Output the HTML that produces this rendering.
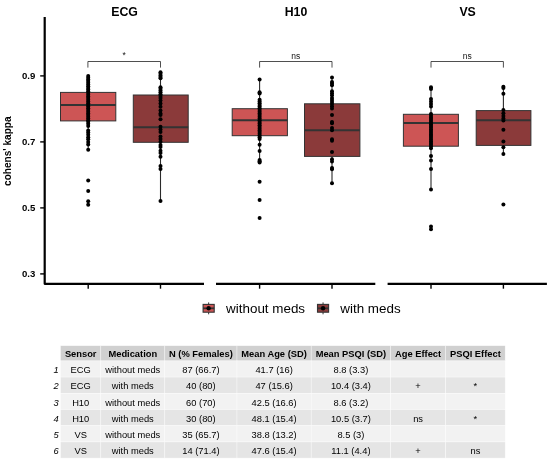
<!DOCTYPE html>
<html><head><meta charset="utf-8"><title>Figure</title><style>html,body{margin:0;padding:0;background:#fff}</style></head><body>
<svg width="550" height="464" viewBox="0 0 550 464" style="display:block;font-family:'Liberation Sans',Arial,sans-serif">
<rect width="550" height="464" fill="#fff"/>
<text x="124.6" y="15.8" font-size="12.3" font-weight="bold" text-anchor="middle" fill="#000">ECG</text>
<text x="296" y="15.8" font-size="12.3" font-weight="bold" text-anchor="middle" fill="#000">H10</text>
<text x="467.6" y="15.8" font-size="12.3" font-weight="bold" text-anchor="middle" fill="#000">VS</text>
<text transform="translate(11.3,151.2) rotate(-90)" font-size="10.05" font-weight="bold" text-anchor="middle" fill="#000">cohens' kappa</text>
<text x="35.3" y="79.4" font-size="9.6" font-weight="bold" text-anchor="end" fill="#000">0.9</text>
<line x1="40.2" x2="44.7" y1="75.9" y2="75.9" stroke="#000" stroke-width="1.4"/>
<text x="35.3" y="145.4" font-size="9.6" font-weight="bold" text-anchor="end" fill="#000">0.7</text>
<line x1="40.2" x2="44.7" y1="141.9" y2="141.9" stroke="#000" stroke-width="1.4"/>
<text x="35.3" y="211.4" font-size="9.6" font-weight="bold" text-anchor="end" fill="#000">0.5</text>
<line x1="40.2" x2="44.7" y1="207.9" y2="207.9" stroke="#000" stroke-width="1.4"/>
<text x="35.3" y="277.4" font-size="9.6" font-weight="bold" text-anchor="end" fill="#000">0.3</text>
<line x1="40.2" x2="44.7" y1="273.9" y2="273.9" stroke="#000" stroke-width="1.4"/>
<path d="M44.7 17V283.8H204" fill="none" stroke="#000" stroke-width="2.2" stroke-linejoin="round"/>
<line x1="216" x2="375.3" y1="283.8" y2="283.8" stroke="#000" stroke-width="2.2"/>
<line x1="387.6" x2="546.9" y1="283.8" y2="283.8" stroke="#000" stroke-width="2.2"/>
<line x1="88.2" x2="88.2" y1="284" y2="288.7" stroke="#000" stroke-width="1.4"/>
<line x1="160.5" x2="160.5" y1="284" y2="288.7" stroke="#000" stroke-width="1.4"/>
<line x1="259.6" x2="259.6" y1="284" y2="288.7" stroke="#000" stroke-width="1.4"/>
<line x1="332.0" x2="332.0" y1="284" y2="288.7" stroke="#000" stroke-width="1.4"/>
<line x1="431" x2="431" y1="284" y2="288.7" stroke="#000" stroke-width="1.4"/>
<line x1="503.4" x2="503.4" y1="284" y2="288.7" stroke="#000" stroke-width="1.4"/>
<line x1="88.2" x2="88.2" y1="76" y2="149.8" stroke="#2a2a2a" stroke-width="1.1"/>
<rect x="60.5" y="92.4" width="55.3" height="28.5" fill="#CD5555" stroke="#333333" stroke-width="1"/>
<line x1="60.5" x2="115.8" y1="105.0" y2="105.0" stroke="#333333" stroke-width="1.9"/>
<line x1="160.5" x2="160.5" y1="72" y2="201" stroke="#2a2a2a" stroke-width="1.1"/>
<rect x="133.3" y="95.0" width="54.9" height="47.3" fill="#8B3A3A" stroke="#333333" stroke-width="1"/>
<line x1="133.3" x2="188.2" y1="127.2" y2="127.2" stroke="#333333" stroke-width="1.9"/>
<line x1="259.6" x2="259.6" y1="79.4" y2="162.6" stroke="#2a2a2a" stroke-width="1.1"/>
<rect x="232.2" y="108.7" width="55.2" height="27.0" fill="#CD5555" stroke="#333333" stroke-width="1"/>
<line x1="232.2" x2="287.4" y1="120.3" y2="120.3" stroke="#333333" stroke-width="1.9"/>
<line x1="332.0" x2="332.0" y1="77.4" y2="183.3" stroke="#2a2a2a" stroke-width="1.1"/>
<rect x="304.5" y="103.8" width="55.4" height="52.6" fill="#8B3A3A" stroke="#333333" stroke-width="1"/>
<line x1="304.5" x2="359.9" y1="130.3" y2="130.3" stroke="#333333" stroke-width="1.9"/>
<line x1="431" x2="431" y1="87.2" y2="189.5" stroke="#2a2a2a" stroke-width="1.1"/>
<rect x="403.4" y="114.3" width="55.0" height="31.9" fill="#CD5555" stroke="#333333" stroke-width="1"/>
<line x1="403.4" x2="458.4" y1="123.0" y2="123.0" stroke="#333333" stroke-width="1.9"/>
<line x1="503.4" x2="503.4" y1="86.8" y2="154.1" stroke="#2a2a2a" stroke-width="1.1"/>
<rect x="476.2" y="110.6" width="54.7" height="34.8" fill="#8B3A3A" stroke="#333333" stroke-width="1"/>
<line x1="476.2" x2="530.9" y1="120.3" y2="120.3" stroke="#333333" stroke-width="1.9"/>
<circle cx="88.2" cy="76.0" r="2.0" fill="#000"/>
<circle cx="88.2" cy="77.7" r="2.0" fill="#000"/>
<circle cx="88.2" cy="79.4" r="2.0" fill="#000"/>
<circle cx="88.2" cy="81.1" r="2.0" fill="#000"/>
<circle cx="88.2" cy="82.8" r="2.0" fill="#000"/>
<circle cx="88.2" cy="84.5" r="2.0" fill="#000"/>
<circle cx="88.2" cy="86.2" r="2.0" fill="#000"/>
<circle cx="88.2" cy="87.9" r="2.0" fill="#000"/>
<circle cx="88.2" cy="89.6" r="2.0" fill="#000"/>
<circle cx="88.2" cy="91.3" r="2.0" fill="#000"/>
<circle cx="88.2" cy="93.0" r="2.0" fill="#000"/>
<circle cx="88.2" cy="94.7" r="2.0" fill="#000"/>
<circle cx="88.2" cy="96.4" r="2.0" fill="#000"/>
<circle cx="88.2" cy="98.1" r="2.0" fill="#000"/>
<circle cx="88.2" cy="99.8" r="2.0" fill="#000"/>
<circle cx="88.2" cy="101.5" r="2.0" fill="#000"/>
<circle cx="88.2" cy="103.2" r="2.0" fill="#000"/>
<circle cx="88.2" cy="104.9" r="2.0" fill="#000"/>
<circle cx="88.2" cy="106.6" r="2.0" fill="#000"/>
<circle cx="88.2" cy="108.3" r="2.0" fill="#000"/>
<circle cx="88.2" cy="110.0" r="2.0" fill="#000"/>
<circle cx="88.2" cy="111.7" r="2.0" fill="#000"/>
<circle cx="88.2" cy="113.4" r="2.0" fill="#000"/>
<circle cx="88.2" cy="115.1" r="2.0" fill="#000"/>
<circle cx="88.2" cy="116.8" r="2.0" fill="#000"/>
<circle cx="88.2" cy="118.5" r="2.0" fill="#000"/>
<circle cx="88.2" cy="120.2" r="2.0" fill="#000"/>
<circle cx="88.2" cy="121.8" r="2.0" fill="#000"/>
<circle cx="88.2" cy="123.8" r="2.0" fill="#000"/>
<circle cx="88.2" cy="125.9" r="2.0" fill="#000"/>
<circle cx="88.2" cy="130.5" r="2.0" fill="#000"/>
<circle cx="88.2" cy="132.6" r="2.0" fill="#000"/>
<circle cx="88.2" cy="134.7" r="2.0" fill="#000"/>
<circle cx="88.2" cy="137.3" r="2.0" fill="#000"/>
<circle cx="88.2" cy="139.3" r="2.0" fill="#000"/>
<circle cx="88.2" cy="141.9" r="2.0" fill="#000"/>
<circle cx="88.2" cy="144.5" r="2.0" fill="#000"/>
<circle cx="88.2" cy="149.7" r="2.0" fill="#000"/>
<circle cx="88.2" cy="180.4" r="2.0" fill="#000"/>
<circle cx="88.2" cy="191.0" r="2.0" fill="#000"/>
<circle cx="88.2" cy="201.2" r="2.0" fill="#000"/>
<circle cx="88.2" cy="204.8" r="2.0" fill="#000"/>
<circle cx="160.5" cy="72.2" r="2.0" fill="#000"/>
<circle cx="160.5" cy="73.8" r="2.0" fill="#000"/>
<circle cx="160.5" cy="75.5" r="2.0" fill="#000"/>
<circle cx="160.5" cy="77.0" r="2.0" fill="#000"/>
<circle cx="160.5" cy="78.2" r="2.0" fill="#000"/>
<circle cx="160.5" cy="87.2" r="2.0" fill="#000"/>
<circle cx="160.5" cy="88.8" r="2.0" fill="#000"/>
<circle cx="160.5" cy="90.5" r="2.0" fill="#000"/>
<circle cx="160.5" cy="92.3" r="2.0" fill="#000"/>
<circle cx="160.5" cy="94.2" r="2.0" fill="#000"/>
<circle cx="160.5" cy="96.0" r="2.0" fill="#000"/>
<circle cx="160.5" cy="98.0" r="2.0" fill="#000"/>
<circle cx="160.5" cy="100.5" r="2.0" fill="#000"/>
<circle cx="160.5" cy="103.5" r="2.0" fill="#000"/>
<circle cx="160.5" cy="106.8" r="2.0" fill="#000"/>
<circle cx="160.5" cy="110.5" r="2.0" fill="#000"/>
<circle cx="160.5" cy="113.5" r="2.0" fill="#000"/>
<circle cx="160.5" cy="115.0" r="2.0" fill="#000"/>
<circle cx="160.5" cy="119.3" r="2.0" fill="#000"/>
<circle cx="160.5" cy="126.8" r="2.0" fill="#000"/>
<circle cx="160.5" cy="129.4" r="2.0" fill="#000"/>
<circle cx="160.5" cy="132.0" r="2.0" fill="#000"/>
<circle cx="160.5" cy="136.5" r="2.0" fill="#000"/>
<circle cx="160.5" cy="139.0" r="2.0" fill="#000"/>
<circle cx="160.5" cy="141.7" r="2.0" fill="#000"/>
<circle cx="160.5" cy="145.0" r="2.0" fill="#000"/>
<circle cx="160.5" cy="147.0" r="2.0" fill="#000"/>
<circle cx="160.5" cy="150.7" r="2.0" fill="#000"/>
<circle cx="160.5" cy="153.0" r="2.0" fill="#000"/>
<circle cx="160.5" cy="156.7" r="2.0" fill="#000"/>
<circle cx="160.5" cy="166.0" r="2.0" fill="#000"/>
<circle cx="160.5" cy="169.0" r="2.0" fill="#000"/>
<circle cx="160.5" cy="201.0" r="2.0" fill="#000"/>
<circle cx="259.6" cy="79.4" r="2.0" fill="#000"/>
<circle cx="259.6" cy="92.2" r="2.0" fill="#000"/>
<circle cx="259.6" cy="93.6" r="2.0" fill="#000"/>
<circle cx="259.6" cy="99.8" r="2.0" fill="#000"/>
<circle cx="259.6" cy="101.5" r="2.0" fill="#000"/>
<circle cx="259.6" cy="103.2" r="2.0" fill="#000"/>
<circle cx="259.6" cy="104.9" r="2.0" fill="#000"/>
<circle cx="259.6" cy="106.6" r="2.0" fill="#000"/>
<circle cx="259.6" cy="108.3" r="2.0" fill="#000"/>
<circle cx="259.6" cy="110.0" r="2.0" fill="#000"/>
<circle cx="259.6" cy="111.7" r="2.0" fill="#000"/>
<circle cx="259.6" cy="113.4" r="2.0" fill="#000"/>
<circle cx="259.6" cy="115.1" r="2.0" fill="#000"/>
<circle cx="259.6" cy="116.8" r="2.0" fill="#000"/>
<circle cx="259.6" cy="118.5" r="2.0" fill="#000"/>
<circle cx="259.6" cy="120.2" r="2.0" fill="#000"/>
<circle cx="259.6" cy="121.9" r="2.0" fill="#000"/>
<circle cx="259.6" cy="123.6" r="2.0" fill="#000"/>
<circle cx="259.6" cy="125.3" r="2.0" fill="#000"/>
<circle cx="259.6" cy="127.0" r="2.0" fill="#000"/>
<circle cx="259.6" cy="128.7" r="2.0" fill="#000"/>
<circle cx="259.6" cy="130.4" r="2.0" fill="#000"/>
<circle cx="259.6" cy="132.1" r="2.0" fill="#000"/>
<circle cx="259.6" cy="133.8" r="2.0" fill="#000"/>
<circle cx="259.6" cy="135.5" r="2.0" fill="#000"/>
<circle cx="259.6" cy="137.2" r="2.0" fill="#000"/>
<circle cx="259.6" cy="138.9" r="2.0" fill="#000"/>
<circle cx="259.6" cy="144.8" r="2.0" fill="#000"/>
<circle cx="259.6" cy="151.0" r="2.0" fill="#000"/>
<circle cx="259.6" cy="160.0" r="2.0" fill="#000"/>
<circle cx="259.6" cy="161.3" r="2.0" fill="#000"/>
<circle cx="259.6" cy="162.6" r="2.0" fill="#000"/>
<circle cx="259.6" cy="181.7" r="2.0" fill="#000"/>
<circle cx="259.6" cy="200.0" r="2.0" fill="#000"/>
<circle cx="259.6" cy="218.1" r="2.0" fill="#000"/>
<circle cx="332.0" cy="77.4" r="2.0" fill="#000"/>
<circle cx="332.0" cy="81.9" r="2.0" fill="#000"/>
<circle cx="332.0" cy="83.6" r="2.0" fill="#000"/>
<circle cx="332.0" cy="85.3" r="2.0" fill="#000"/>
<circle cx="332.0" cy="91.2" r="2.0" fill="#000"/>
<circle cx="332.0" cy="93.3" r="2.0" fill="#000"/>
<circle cx="332.0" cy="95.3" r="2.0" fill="#000"/>
<circle cx="332.0" cy="98.0" r="2.0" fill="#000"/>
<circle cx="332.0" cy="100.0" r="2.0" fill="#000"/>
<circle cx="332.0" cy="102.0" r="2.0" fill="#000"/>
<circle cx="332.0" cy="104.1" r="2.0" fill="#000"/>
<circle cx="332.0" cy="106.2" r="2.0" fill="#000"/>
<circle cx="332.0" cy="108.5" r="2.0" fill="#000"/>
<circle cx="332.0" cy="114.9" r="2.0" fill="#000"/>
<circle cx="332.0" cy="122.0" r="2.0" fill="#000"/>
<circle cx="332.0" cy="123.2" r="2.0" fill="#000"/>
<circle cx="332.0" cy="128.0" r="2.0" fill="#000"/>
<circle cx="332.0" cy="130.3" r="2.0" fill="#000"/>
<circle cx="332.0" cy="139.3" r="2.0" fill="#000"/>
<circle cx="332.0" cy="140.8" r="2.0" fill="#000"/>
<circle cx="332.0" cy="151.9" r="2.0" fill="#000"/>
<circle cx="332.0" cy="159.3" r="2.0" fill="#000"/>
<circle cx="332.0" cy="161.5" r="2.0" fill="#000"/>
<circle cx="332.0" cy="168.0" r="2.0" fill="#000"/>
<circle cx="332.0" cy="169.3" r="2.0" fill="#000"/>
<circle cx="332.0" cy="183.3" r="2.0" fill="#000"/>
<circle cx="431" cy="87.2" r="2.0" fill="#000"/>
<circle cx="431" cy="88.9" r="2.0" fill="#000"/>
<circle cx="431" cy="99.1" r="2.0" fill="#000"/>
<circle cx="431" cy="101.5" r="2.0" fill="#000"/>
<circle cx="431" cy="104.0" r="2.0" fill="#000"/>
<circle cx="431" cy="106.4" r="2.0" fill="#000"/>
<circle cx="431" cy="114.0" r="2.0" fill="#000"/>
<circle cx="431" cy="115.7" r="2.0" fill="#000"/>
<circle cx="431" cy="117.4" r="2.0" fill="#000"/>
<circle cx="431" cy="119.1" r="2.0" fill="#000"/>
<circle cx="431" cy="120.8" r="2.0" fill="#000"/>
<circle cx="431" cy="122.5" r="2.0" fill="#000"/>
<circle cx="431" cy="124.2" r="2.0" fill="#000"/>
<circle cx="431" cy="125.9" r="2.0" fill="#000"/>
<circle cx="431" cy="127.6" r="2.0" fill="#000"/>
<circle cx="431" cy="129.3" r="2.0" fill="#000"/>
<circle cx="431" cy="131.0" r="2.0" fill="#000"/>
<circle cx="431" cy="132.7" r="2.0" fill="#000"/>
<circle cx="431" cy="134.4" r="2.0" fill="#000"/>
<circle cx="431" cy="136.1" r="2.0" fill="#000"/>
<circle cx="431" cy="137.8" r="2.0" fill="#000"/>
<circle cx="431" cy="139.5" r="2.0" fill="#000"/>
<circle cx="431" cy="141.2" r="2.0" fill="#000"/>
<circle cx="431" cy="142.9" r="2.0" fill="#000"/>
<circle cx="431" cy="144.6" r="2.0" fill="#000"/>
<circle cx="431" cy="146.3" r="2.0" fill="#000"/>
<circle cx="431" cy="148.2" r="2.0" fill="#000"/>
<circle cx="431" cy="155.9" r="2.0" fill="#000"/>
<circle cx="431" cy="160.4" r="2.0" fill="#000"/>
<circle cx="431" cy="169.0" r="2.0" fill="#000"/>
<circle cx="431" cy="189.5" r="2.0" fill="#000"/>
<circle cx="431" cy="226.6" r="2.0" fill="#000"/>
<circle cx="431" cy="229.2" r="2.0" fill="#000"/>
<circle cx="503.4" cy="86.8" r="2.0" fill="#000"/>
<circle cx="503.4" cy="88.1" r="2.0" fill="#000"/>
<circle cx="503.4" cy="93.7" r="2.0" fill="#000"/>
<circle cx="503.4" cy="110.0" r="2.0" fill="#000"/>
<circle cx="503.4" cy="113.3" r="2.0" fill="#000"/>
<circle cx="503.4" cy="116.0" r="2.0" fill="#000"/>
<circle cx="503.4" cy="118.4" r="2.0" fill="#000"/>
<circle cx="503.4" cy="120.6" r="2.0" fill="#000"/>
<circle cx="503.4" cy="129.8" r="2.0" fill="#000"/>
<circle cx="503.4" cy="141.4" r="2.0" fill="#000"/>
<circle cx="503.4" cy="147.2" r="2.0" fill="#000"/>
<circle cx="503.4" cy="154.1" r="2.0" fill="#000"/>
<circle cx="503.4" cy="204.5" r="2.0" fill="#000"/>
<path d="M87.9 67.6V61.5H160.5V67.6" fill="none" stroke="#222" stroke-width="0.8"/>
<text x="124.2" y="58.199999999999996" font-size="8.5" text-anchor="middle" fill="#111">*</text>
<path d="M259.6 67.6V61.5H332.0V67.6" fill="none" stroke="#222" stroke-width="0.8"/>
<text x="295.8" y="58.8" font-size="8.5" text-anchor="middle" fill="#111">ns</text>
<path d="M431 67.6V61.5H503.4V67.6" fill="none" stroke="#222" stroke-width="0.8"/>
<text x="467.2" y="58.8" font-size="8.5" text-anchor="middle" fill="#111">ns</text>
<line x1="208.65" x2="208.65" y1="302.4" y2="314.3" stroke="#333333" stroke-width="1"/>
<rect x="203.1" y="304.4" width="11.1" height="7.8" fill="#CD5555" stroke="#333333" stroke-width="1.1"/>
<line x1="203.1" x2="214.2" y1="308.3" y2="308.3" stroke="#333333" stroke-width="1.8"/>
<circle cx="208.65" cy="308.3" r="2.2" fill="#000"/>
<text x="226.1" y="313.3" font-size="13.42" fill="#000">without meds</text>
<line x1="323.05" x2="323.05" y1="302.4" y2="314.3" stroke="#333333" stroke-width="1"/>
<rect x="317.5" y="304.4" width="11.1" height="7.8" fill="#8B3A3A" stroke="#333333" stroke-width="1.1"/>
<line x1="317.5" x2="328.6" y1="308.3" y2="308.3" stroke="#333333" stroke-width="1.8"/>
<circle cx="323.05" cy="308.3" r="2.2" fill="#000"/>
<text x="340.3" y="313.3" font-size="13.42" fill="#000">with meds</text>
<rect x="60.5" y="345.7" width="40.3" height="15.2" fill="#D0D0D0" stroke="#fff" stroke-opacity="0.6" stroke-width="0.6"/>
<text x="80.7" y="356.8" font-size="9.33" font-weight="bold" text-anchor="middle" fill="#000">Sensor</text>
<rect x="100.8" y="345.7" width="64.0" height="15.2" fill="#D0D0D0" stroke="#fff" stroke-opacity="0.6" stroke-width="0.6"/>
<text x="132.8" y="356.8" font-size="9.33" font-weight="bold" text-anchor="middle" fill="#000">Medication</text>
<rect x="164.8" y="345.7" width="72.2" height="15.2" fill="#D0D0D0" stroke="#fff" stroke-opacity="0.6" stroke-width="0.6"/>
<text x="200.9" y="356.8" font-size="9.33" font-weight="bold" text-anchor="middle" fill="#000">N (% Females)</text>
<rect x="237" y="345.7" width="74.2" height="15.2" fill="#D0D0D0" stroke="#fff" stroke-opacity="0.6" stroke-width="0.6"/>
<text x="274.1" y="356.8" font-size="9.33" font-weight="bold" text-anchor="middle" fill="#000">Mean Age (SD)</text>
<rect x="311.2" y="345.7" width="79.4" height="15.2" fill="#D0D0D0" stroke="#fff" stroke-opacity="0.6" stroke-width="0.6"/>
<text x="350.9" y="356.8" font-size="9.33" font-weight="bold" text-anchor="middle" fill="#000">Mean PSQI (SD)</text>
<rect x="390.6" y="345.7" width="55.0" height="15.2" fill="#D0D0D0" stroke="#fff" stroke-opacity="0.6" stroke-width="0.6"/>
<text x="418.1" y="356.8" font-size="9.33" font-weight="bold" text-anchor="middle" fill="#000">Age Effect</text>
<rect x="445.6" y="345.7" width="59.6" height="15.2" fill="#D0D0D0" stroke="#fff" stroke-opacity="0.6" stroke-width="0.6"/>
<text x="475.4" y="356.8" font-size="9.33" font-weight="bold" text-anchor="middle" fill="#000">PSQI Effect</text>
<text x="58.6" y="373.2" font-size="9.33" font-style="italic" text-anchor="end" fill="#000">1</text>
<rect x="60.5" y="360.9" width="40.3" height="16.2" fill="#F2F2F2" stroke="#fff" stroke-opacity="0.6" stroke-width="0.6"/>
<text x="80.7" y="373.2" font-size="9.33" text-anchor="middle" fill="#000">ECG</text>
<rect x="100.8" y="360.9" width="64.0" height="16.2" fill="#F2F2F2" stroke="#fff" stroke-opacity="0.6" stroke-width="0.6"/>
<text x="132.8" y="373.2" font-size="9.33" text-anchor="middle" fill="#000">without meds</text>
<rect x="164.8" y="360.9" width="72.2" height="16.2" fill="#F2F2F2" stroke="#fff" stroke-opacity="0.6" stroke-width="0.6"/>
<text x="200.9" y="373.2" font-size="9.33" text-anchor="middle" fill="#000">87 (66.7)</text>
<rect x="237" y="360.9" width="74.2" height="16.2" fill="#F2F2F2" stroke="#fff" stroke-opacity="0.6" stroke-width="0.6"/>
<text x="274.1" y="373.2" font-size="9.33" text-anchor="middle" fill="#000">41.7 (16)</text>
<rect x="311.2" y="360.9" width="79.4" height="16.2" fill="#F2F2F2" stroke="#fff" stroke-opacity="0.6" stroke-width="0.6"/>
<text x="350.9" y="373.2" font-size="9.33" text-anchor="middle" fill="#000">8.8 (3.3)</text>
<rect x="390.6" y="360.9" width="55.0" height="16.2" fill="#F2F2F2" stroke="#fff" stroke-opacity="0.6" stroke-width="0.6"/>
<rect x="445.6" y="360.9" width="59.6" height="16.2" fill="#F2F2F2" stroke="#fff" stroke-opacity="0.6" stroke-width="0.6"/>
<text x="58.6" y="389.4" font-size="9.33" font-style="italic" text-anchor="end" fill="#000">2</text>
<rect x="60.5" y="377.1" width="40.3" height="16.2" fill="#E5E5E5" stroke="#fff" stroke-opacity="0.6" stroke-width="0.6"/>
<text x="80.7" y="389.4" font-size="9.33" text-anchor="middle" fill="#000">ECG</text>
<rect x="100.8" y="377.1" width="64.0" height="16.2" fill="#E5E5E5" stroke="#fff" stroke-opacity="0.6" stroke-width="0.6"/>
<text x="132.8" y="389.4" font-size="9.33" text-anchor="middle" fill="#000">with meds</text>
<rect x="164.8" y="377.1" width="72.2" height="16.2" fill="#E5E5E5" stroke="#fff" stroke-opacity="0.6" stroke-width="0.6"/>
<text x="200.9" y="389.4" font-size="9.33" text-anchor="middle" fill="#000">40 (80)</text>
<rect x="237" y="377.1" width="74.2" height="16.2" fill="#E5E5E5" stroke="#fff" stroke-opacity="0.6" stroke-width="0.6"/>
<text x="274.1" y="389.4" font-size="9.33" text-anchor="middle" fill="#000">47 (15.6)</text>
<rect x="311.2" y="377.1" width="79.4" height="16.2" fill="#E5E5E5" stroke="#fff" stroke-opacity="0.6" stroke-width="0.6"/>
<text x="350.9" y="389.4" font-size="9.33" text-anchor="middle" fill="#000">10.4 (3.4)</text>
<rect x="390.6" y="377.1" width="55.0" height="16.2" fill="#E5E5E5" stroke="#fff" stroke-opacity="0.6" stroke-width="0.6"/>
<text x="418.1" y="389.4" font-size="9.33" text-anchor="middle" fill="#000">+</text>
<rect x="445.6" y="377.1" width="59.6" height="16.2" fill="#E5E5E5" stroke="#fff" stroke-opacity="0.6" stroke-width="0.6"/>
<text x="475.4" y="389.4" font-size="9.33" text-anchor="middle" fill="#000">*</text>
<text x="58.6" y="405.6" font-size="9.33" font-style="italic" text-anchor="end" fill="#000">3</text>
<rect x="60.5" y="393.3" width="40.3" height="16.2" fill="#F2F2F2" stroke="#fff" stroke-opacity="0.6" stroke-width="0.6"/>
<text x="80.7" y="405.6" font-size="9.33" text-anchor="middle" fill="#000">H10</text>
<rect x="100.8" y="393.3" width="64.0" height="16.2" fill="#F2F2F2" stroke="#fff" stroke-opacity="0.6" stroke-width="0.6"/>
<text x="132.8" y="405.6" font-size="9.33" text-anchor="middle" fill="#000">without meds</text>
<rect x="164.8" y="393.3" width="72.2" height="16.2" fill="#F2F2F2" stroke="#fff" stroke-opacity="0.6" stroke-width="0.6"/>
<text x="200.9" y="405.6" font-size="9.33" text-anchor="middle" fill="#000">60 (70)</text>
<rect x="237" y="393.3" width="74.2" height="16.2" fill="#F2F2F2" stroke="#fff" stroke-opacity="0.6" stroke-width="0.6"/>
<text x="274.1" y="405.6" font-size="9.33" text-anchor="middle" fill="#000">42.5 (16.6)</text>
<rect x="311.2" y="393.3" width="79.4" height="16.2" fill="#F2F2F2" stroke="#fff" stroke-opacity="0.6" stroke-width="0.6"/>
<text x="350.9" y="405.6" font-size="9.33" text-anchor="middle" fill="#000">8.6 (3.2)</text>
<rect x="390.6" y="393.3" width="55.0" height="16.2" fill="#F2F2F2" stroke="#fff" stroke-opacity="0.6" stroke-width="0.6"/>
<rect x="445.6" y="393.3" width="59.6" height="16.2" fill="#F2F2F2" stroke="#fff" stroke-opacity="0.6" stroke-width="0.6"/>
<text x="58.6" y="421.8" font-size="9.33" font-style="italic" text-anchor="end" fill="#000">4</text>
<rect x="60.5" y="409.5" width="40.3" height="16.2" fill="#E5E5E5" stroke="#fff" stroke-opacity="0.6" stroke-width="0.6"/>
<text x="80.7" y="421.8" font-size="9.33" text-anchor="middle" fill="#000">H10</text>
<rect x="100.8" y="409.5" width="64.0" height="16.2" fill="#E5E5E5" stroke="#fff" stroke-opacity="0.6" stroke-width="0.6"/>
<text x="132.8" y="421.8" font-size="9.33" text-anchor="middle" fill="#000">with meds</text>
<rect x="164.8" y="409.5" width="72.2" height="16.2" fill="#E5E5E5" stroke="#fff" stroke-opacity="0.6" stroke-width="0.6"/>
<text x="200.9" y="421.8" font-size="9.33" text-anchor="middle" fill="#000">30 (80)</text>
<rect x="237" y="409.5" width="74.2" height="16.2" fill="#E5E5E5" stroke="#fff" stroke-opacity="0.6" stroke-width="0.6"/>
<text x="274.1" y="421.8" font-size="9.33" text-anchor="middle" fill="#000">48.1 (15.4)</text>
<rect x="311.2" y="409.5" width="79.4" height="16.2" fill="#E5E5E5" stroke="#fff" stroke-opacity="0.6" stroke-width="0.6"/>
<text x="350.9" y="421.8" font-size="9.33" text-anchor="middle" fill="#000">10.5 (3.7)</text>
<rect x="390.6" y="409.5" width="55.0" height="16.2" fill="#E5E5E5" stroke="#fff" stroke-opacity="0.6" stroke-width="0.6"/>
<text x="418.1" y="421.8" font-size="9.33" text-anchor="middle" fill="#000">ns</text>
<rect x="445.6" y="409.5" width="59.6" height="16.2" fill="#E5E5E5" stroke="#fff" stroke-opacity="0.6" stroke-width="0.6"/>
<text x="475.4" y="421.8" font-size="9.33" text-anchor="middle" fill="#000">*</text>
<text x="58.6" y="438.0" font-size="9.33" font-style="italic" text-anchor="end" fill="#000">5</text>
<rect x="60.5" y="425.7" width="40.3" height="16.2" fill="#F2F2F2" stroke="#fff" stroke-opacity="0.6" stroke-width="0.6"/>
<text x="80.7" y="438.0" font-size="9.33" text-anchor="middle" fill="#000">VS</text>
<rect x="100.8" y="425.7" width="64.0" height="16.2" fill="#F2F2F2" stroke="#fff" stroke-opacity="0.6" stroke-width="0.6"/>
<text x="132.8" y="438.0" font-size="9.33" text-anchor="middle" fill="#000">without meds</text>
<rect x="164.8" y="425.7" width="72.2" height="16.2" fill="#F2F2F2" stroke="#fff" stroke-opacity="0.6" stroke-width="0.6"/>
<text x="200.9" y="438.0" font-size="9.33" text-anchor="middle" fill="#000">35 (65.7)</text>
<rect x="237" y="425.7" width="74.2" height="16.2" fill="#F2F2F2" stroke="#fff" stroke-opacity="0.6" stroke-width="0.6"/>
<text x="274.1" y="438.0" font-size="9.33" text-anchor="middle" fill="#000">38.8 (13.2)</text>
<rect x="311.2" y="425.7" width="79.4" height="16.2" fill="#F2F2F2" stroke="#fff" stroke-opacity="0.6" stroke-width="0.6"/>
<text x="350.9" y="438.0" font-size="9.33" text-anchor="middle" fill="#000">8.5 (3)</text>
<rect x="390.6" y="425.7" width="55.0" height="16.2" fill="#F2F2F2" stroke="#fff" stroke-opacity="0.6" stroke-width="0.6"/>
<rect x="445.6" y="425.7" width="59.6" height="16.2" fill="#F2F2F2" stroke="#fff" stroke-opacity="0.6" stroke-width="0.6"/>
<text x="58.6" y="454.2" font-size="9.33" font-style="italic" text-anchor="end" fill="#000">6</text>
<rect x="60.5" y="441.9" width="40.3" height="16.2" fill="#E5E5E5" stroke="#fff" stroke-opacity="0.6" stroke-width="0.6"/>
<text x="80.7" y="454.2" font-size="9.33" text-anchor="middle" fill="#000">VS</text>
<rect x="100.8" y="441.9" width="64.0" height="16.2" fill="#E5E5E5" stroke="#fff" stroke-opacity="0.6" stroke-width="0.6"/>
<text x="132.8" y="454.2" font-size="9.33" text-anchor="middle" fill="#000">with meds</text>
<rect x="164.8" y="441.9" width="72.2" height="16.2" fill="#E5E5E5" stroke="#fff" stroke-opacity="0.6" stroke-width="0.6"/>
<text x="200.9" y="454.2" font-size="9.33" text-anchor="middle" fill="#000">14 (71.4)</text>
<rect x="237" y="441.9" width="74.2" height="16.2" fill="#E5E5E5" stroke="#fff" stroke-opacity="0.6" stroke-width="0.6"/>
<text x="274.1" y="454.2" font-size="9.33" text-anchor="middle" fill="#000">47.6 (15.4)</text>
<rect x="311.2" y="441.9" width="79.4" height="16.2" fill="#E5E5E5" stroke="#fff" stroke-opacity="0.6" stroke-width="0.6"/>
<text x="350.9" y="454.2" font-size="9.33" text-anchor="middle" fill="#000">11.1 (4.4)</text>
<rect x="390.6" y="441.9" width="55.0" height="16.2" fill="#E5E5E5" stroke="#fff" stroke-opacity="0.6" stroke-width="0.6"/>
<text x="418.1" y="454.2" font-size="9.33" text-anchor="middle" fill="#000">+</text>
<rect x="445.6" y="441.9" width="59.6" height="16.2" fill="#E5E5E5" stroke="#fff" stroke-opacity="0.6" stroke-width="0.6"/>
<text x="475.4" y="454.2" font-size="9.33" text-anchor="middle" fill="#000">ns</text>
</svg>
</body></html>
